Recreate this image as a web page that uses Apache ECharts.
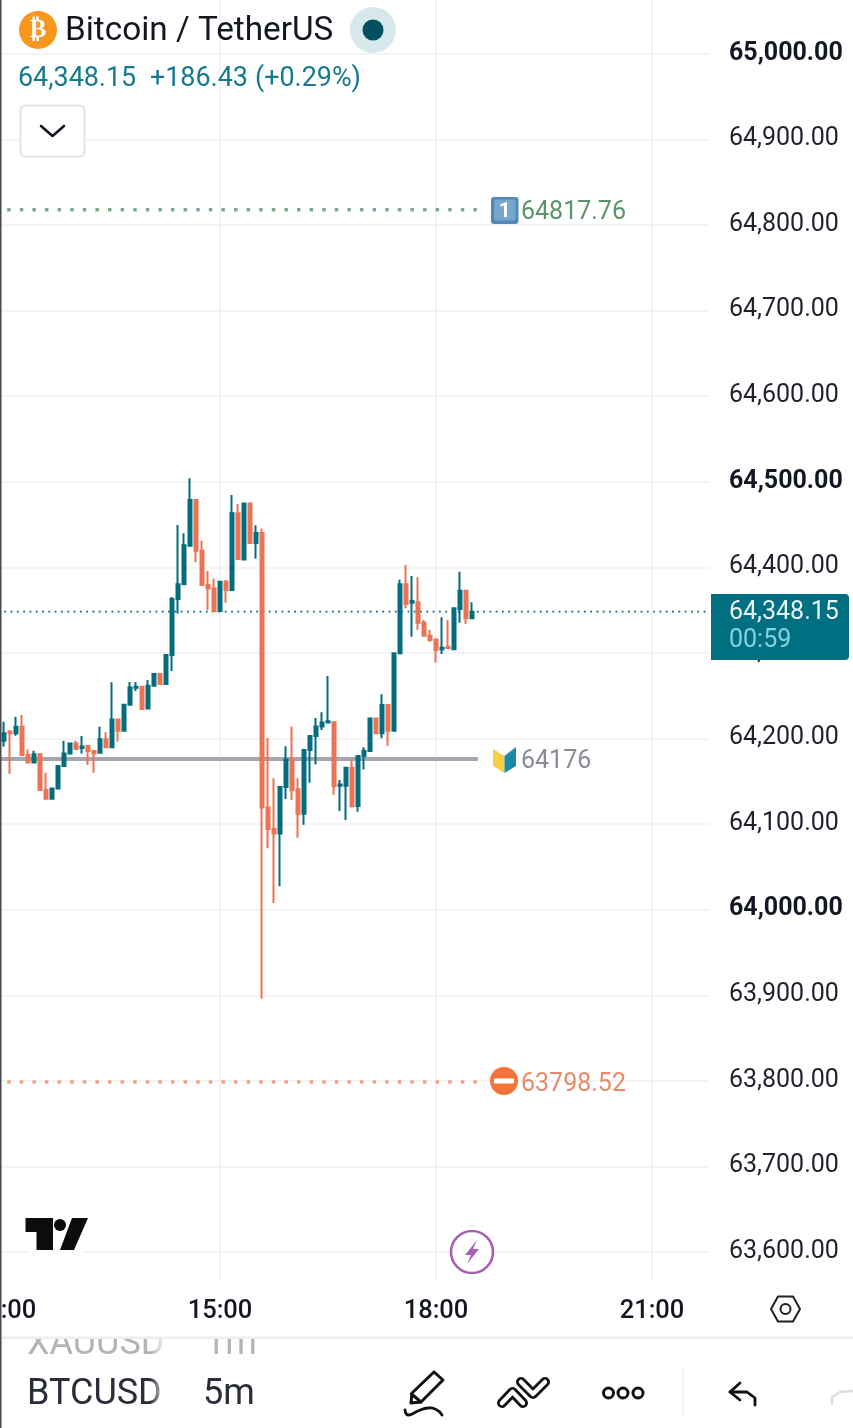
<!DOCTYPE html>
<html><head><meta charset="utf-8">
<style>html,body{margin:0;padding:0;background:#fff}#c{width:853px;height:1428px}</style>
<script src="https://cdn.jsdelivr.net/npm/echarts@6/dist/echarts.min.js"></script>
</head><body><div id="c"></div>
<script>
const opens = [64197.4,64208,64206,64213.8,64180.7,64172.1,64181.5,64139.8,64129.7,64141.7,64167.8,64182.6,64194.3,64188.9,64191.2,64185.4,64183.4,64199,64189.7,64222.3,64209.1,64239.5,64259.4,64260.5,64235.2,64261.7,64275.3,64263.6,64297.5,64363,64380.1,64425.3,64478.7,64419.5,64379.3,64375.4,64349,64383.2,64373.5,64463.1,64409.1,64474.7,64428.4,64440.1,64119.3,64094.3,64089.1,64143.4,64175.6,64140.6,64112,64186.5,64203,64213.9,64218.7,64219.1,64144.9,64144.9,64165.9,64121.1,64179.5,64185.4,64223.5,64206,64239.1,64209.1,64299.5,64380.1,64358.7,64359.1,64335.3,64320.1,64315.8,64304.2,64307.3,64304.2,64351.3,64372.7,64340.4];
const closes = [64206,64206,64213.8,64180.7,64172.1,64181.5,64139.8,64129.7,64141.7,64167.8,64182.6,64194.3,64187.7,64190.8,64185.4,64182.6,64199,64189.7,64222.3,64209.1,64239.5,64259.7,64260.5,64234.4,64261.7,64275.3,64263.6,64297.5,64363,64380.1,64425.7,64478.7,64419.5,64379.3,64375.4,64349,64383.2,64373.5,64463.1,64409.7,64474.7,64428.4,64440.1,64119.3,64094.3,64089.1,64143.4,64175.6,64139.4,64112,64186.5,64203,64213.9,64218.7,64220.3,64144.6,64146.4,64165.9,64121.1,64179.5,64185.8,64223.5,64206,64239.1,64209.1,64299.5,64380.1,64357.1,64360.6,64335.3,64320.1,64315.1,64303.4,64306.1,64305.7,64352.1,64372.7,64340.4,64348.15];
const lows = [64190.4,64158.5,64203.3,64180.7,64172.1,64172.1,64139.8,64129.7,64129.7,64141.7,64167.8,64182.6,64187.7,64182.6,64169,64160.1,64183.4,64189.7,64189.7,64196.3,64209.1,64239.5,64255.5,64234.4,64235.2,64261.7,64263.6,64263.6,64278.8,64346.2,64380.1,64425.3,64405.8,64379.3,64350.1,64349,64349,64358.7,64373.5,64409.7,64409.1,64428.4,64409.9,63895.9,64071.8,64007.8,64027.5,64129.3,64128.1,64083.9,64099.1,64148.2,64169.6,64209.8,64218.7,64134.2,64115.3,64104.7,64119.5,64114.5,64163.9,64185.4,64206,64200.2,64191.6,64209.1,64299.5,64352.1,64319,64326.8,64320.1,64313.1,64288.6,64298.7,64305.7,64304.2,64335.3,64333.8,64340.4];
const highs = [64219.6,64209.9,64225.5,64227.4,64187.3,64185.8,64181.5,64160.1,64141.7,64167.8,64197.4,64194.3,64197.4,64202.9,64191.2,64185.4,64213.8,64207.2,64265.6,64222.3,64239.5,64266,64266,64260.5,64268.3,64275.3,64275.3,64297.5,64365.3,64449.5,64439.7,64504,64478.7,64431.2,64395.7,64387.1,64383.2,64385.2,64484.5,64474,64474.7,64474.7,64449.3,64445.3,64200.6,64153.5,64143.4,64190.9,64213.9,64153.5,64186.5,64203,64223.9,64230.8,64273,64219.1,64151.5,64165.9,64175.6,64179.5,64189.7,64223.5,64223.5,64251.6,64239.1,64299.5,64385.9,64402.7,64389.9,64388.3,64338.4,64326.8,64315.8,64341.6,64338.4,64352.1,64394.9,64372.7,64359.1];
const priceTicks = [63600,63700,63800,63900,64000,64100,64200,64300,64400,64500,64600,64700,64800,64900,65000];
const boldTicks = [64000,64500,65000];
const timeTicks = ['12:00','15:00','18:00','21:00'];
const gridTimes = ['15:00','18:00','21:00'];
const lastPrice = 64348.15;
const targetPrice = 64817.76;
const stopPrice = 63798.52;
const entryPrice = 64176;
const lastLevelIndex = 79;
const rightIndex = 117;

const bandCount = 118;
const categories = [];
for (let i = 0; i < bandCount; i++) {
  const m = 12 * 60 + 5 * i;
  categories.push(String(Math.floor(m / 60) % 24).padStart(2, '0') + ':' + String(m % 60).padStart(2, '0'));
}
const candles = opens.map((o, i) => [o, closes[i], lows[i], highs[i]]);
const showTime = (i, v) => timeTicks.includes(v);
const showGrid = (i, v) => gridTimes.includes(v);
const TEAL = '#056c7e', RED = '#ec7353';
const F = 'Roboto';

function levelSeries(value, color, width, dash, offset, labelText, labelColor, startIdx, endIdx) {
  return {
    type: 'line', silent: true, symbol: 'none', z: 1, animation: false,
    data: [[startIdx, value], [endIdx, value]],
    lineStyle: { color, width, type: dash, dashOffset: offset, cap: 'butt' },
    endLabel: labelText ? {
      show: true, formatter: labelText, distance: 43, offset: [0, 2.5], color: labelColor,
      fontFamily: F, fontSize: 25
    } : { show: false }
  };
}
const T = (text, x, y, font, fill, extra) => ({ type: 'text', z: 100, silent: true,
  style: Object.assign({ text, x, y, font, fill, verticalAlign: 'middle' }, extra || {}) });
const R = (x, y, w, h, fill, r, extra) => ({ type: 'rect', z: 100, silent: true,
  shape: { x, y, width: w, height: h, r: r || 0 }, style: Object.assign({ fill }, extra || {}) });
const C = (cx, cy, r, fill, extra) => ({ type: 'circle', z: 100, silent: true,
  shape: { cx, cy, r }, style: Object.assign({ fill }, extra || {}) });
const PG = (points, fill) => ({ type: 'polygon', z: 100, silent: true, shape: { points }, style: { fill } });
const PL = (points, stroke, lw, smooth) => ({ type: 'polyline', z: 100, silent: true,
  shape: { points, smooth: smooth || 0 },
  style: { stroke, lineWidth: lw, fill: null, lineCap: 'round', lineJoin: 'round' } });
const ring = (cx, cy, r, stroke, lw) => ({ type: 'circle', z: 100, silent: true, shape: { cx, cy, r }, style: { fill: null, stroke, lineWidth: lw } });

const ink = '#131722';
const graphics = [
  // header
  C(38, 30, 19, '#f7971d'),
  T('₿', 38, 30, "bold 25px 'DejaVu Sans'", '#fff', { align: 'center' }),
  T('Bitcoin / TetherUS', 65, 32, '33.3px ' + F, ink),
  C(373, 30, 23, '#d6e8ec'), C(373, 30, 10.5, '#00505f'),
  T('64,348.15', 18, 79.5, '26.9px ' + F, '#157a8c'),
  T('+186.43', 150, 79.5, '26.9px ' + F, '#157a8c'),
  T('(+0.29%)', 255, 79.5, '26.9px ' + F, '#157a8c'),
  R(20.5, 105.5, 64, 51, '#fff', 5, { stroke: '#e0e3e8', lineWidth: 2 }),
  PL([[41, 126], [52.5, 136], [64, 126]], ink, 2.6),
  // level icons
  R(491, 197, 27.5, 27, '#5288b8', 3),
  R(494, 199.5, 21.5, 21, '#74a6cf', 2),
  T('1', 504.7, 212, 'bold 21px ' + F, '#fff', { align: 'center' }),
  PG([[493, 749], [504.5, 756], [504.5, 773], [493, 766]], '#f7cf44'),
  PG([[516, 747], [504.5, 756], [504.5, 773], [516, 766]], '#1a8aa6'),
  C(504, 1081, 14, '#f2743a'),
  R(494, 1078.5, 20, 5, '#fff', 1),
  // last price tag
  R(711, 594, 138, 66, '#006f82', [0, 4, 4, 0]),
  T('64,348.15', 729, 613, '25px ' + F, '#e6f6f8'),
  T('00:59', 729, 641, '25px ' + F, '#86d2df'),
  // logo
  R(30, 1250, 52, 4, '#fff'),
  PG([[25.5, 1218], [53, 1218], [53, 1250], [36.5, 1250], [36.5, 1232], [25.5, 1232]], '#0c0c0c'),
  C(60, 1225, 6, '#0c0c0c'),
  PG([[72, 1218], [88, 1218], [74, 1250], [60, 1250]], '#0c0c0c'),
  // lightning
  C(472, 1252, 21, '#fff', { stroke: '#a65fb4', lineWidth: 2.6 }),
  PG([[477, 1240], [465, 1255], [471, 1255], [467, 1264], [479, 1249], [473, 1249]], '#a65fb4'),
  // settings hexagon
  PL([[771, 1309], [778, 1296.5], [793, 1296.5], [800, 1309], [793, 1321.5], [778, 1321.5], [771, 1309]], '#202020', 2),
  ring(785.5, 1309, 5, '#202020', 2),
  // bottom bar
  T('XAUUSD', 27, 1345, '36px ' + F, '#b4b4b8'),
  T('1m', 205, 1345, '36px ' + F, '#b4b4b8'),
  R(0, 1326, 853, 11.5, '#fff'),
  R(0, 1336.5, 853, 2.5, '#eeeef0'),
  T('BTCUSD', 27, 1395, '36px ' + F, '#2a2e39'),
  T('5m', 203, 1395, '36px ' + F, '#2a2e39'),
  { type: 'rect', z: 100, silent: true, shape: { x: 150, y: 1339, width: 18, height: 70 },
    style: { fill: new echarts.graphic.LinearGradient(0, 0, 1, 0, [
      { offset: 0, color: 'rgba(255,255,255,0)' }, { offset: 1, color: '#fff' }]) } },
  R(167, 1339, 28, 70, '#fff'),
  // pencil
  PL([[434, 1372], [443, 1380], [421, 1402], [411, 1403], [412, 1393], [434, 1372]], '#111', 3),
  PL([[411.5, 1394], [421, 1402]], '#111', 3),
  PL([[405, 1410], [408, 1415], [418, 1411], [428, 1408], [437, 1410], [442, 1415]], '#111', 2.8, 0.5),
  // trend icon
  PL([[502, 1403], [512.5, 1392], [523, 1403]], '#111', 10),
  PL([[502, 1403], [512.5, 1392], [523, 1403]], '#fff', 4.5),
  PL([[521, 1382], [533, 1394], [545, 1382]], '#111', 10),
  PL([[521, 1382], [533, 1394], [545, 1382]], '#fff', 4.5),
  // dots
  ring(608.5, 1393, 5, '#111', 3), ring(623, 1393, 5, '#111', 3), ring(638, 1393, 5, '#111', 3),
  R(682.5, 1368, 1.5, 50, '#f0f0f2'),
  // undo / redo
  PL([[740, 1383], [730, 1392], [740, 1400]], '#111', 2.8),
  PL([[730, 1392], [747, 1392], [755, 1398], [755, 1405]], '#111', 2.8),
  PL([[832, 1404], [832, 1397], [840, 1392], [853, 1391]], '#dedee2', 2.6),
  // left screen edge
  R(0, 0, 1.5, 1428, '#4a4a4e')
];

const chart = echarts.init(document.getElementById('c'), null, { renderer: 'canvas' });
chart.setOption({
  animation: false,
  backgroundColor: '#fff',
  grid: { left: 1, right: 144, top: 0, bottom: 148, outerBoundsMode: 'none', containLabel: false },
  xAxis: {
    type: 'category', data: categories, boundaryGap: true,
    axisLine: { show: false }, axisTick: { show: false, alignWithLabel: true },
    axisLabel: { interval: showTime, margin: 19, fontFamily: F, fontWeight: 500, fontSize: 25.5, color: ink, hideOverlap: false },
    splitLine: { show: true, interval: showGrid, alignWithLabel: true, lineStyle: { color: '#f0f1f4', width: 1.5 } }
  },
  yAxis: {
    type: 'value', position: 'right', scale: true,
    min: 63567.3, max: 65062.9,
    axisLine: { show: false },
    axisTick: { show: false, customValues: priceTicks },
    axisLabel: {
      customValues: priceTicks, margin: 20, padding: [0, 0, 1, 0], align: 'left',
      formatter: v => {
        const s = Number(v).toLocaleString('en-US', { minimumFractionDigits: 2, maximumFractionDigits: 2 });
        return boldTicks.includes(Number(v)) ? '{b|' + s + '}' : '{n|' + s + '}';
      },
      rich: {
        b: { fontFamily: F, fontSize: 25, fontWeight: 700, color: ink },
        n: { fontFamily: F, fontSize: 25, color: '#1e222d' }
      }
    },
    splitLine: { show: true, lineStyle: { color: '#f0f1f4', width: 1.5 } }
  },
  series: [
    levelSeries(entryPrice, '#a6a5b0', 4, 'solid', 0, String(entryPrice), '#8a8a96', -1, lastLevelIndex),
    levelSeries(targetPrice, '#7fa98c', 3.5, [3.5, 9.1], 9.4, String(targetPrice), '#5a9468', 0, lastLevelIndex),
    levelSeries(stopPrice, '#efa28b', 3.5, [3.5, 9.1], 9.4, String(stopPrice), '#e88a6a', 0, lastLevelIndex),
    levelSeries(lastPrice, '#056c7e', 1.8, [1.8, 4.5], 0, '', '', -1, rightIndex),
    {
      type: 'candlestick', data: candles, z: 3, barWidth: 3.4, silent: true, animation: false,
      itemStyle: { color: TEAL, color0: RED, borderColor: TEAL, borderColor0: RED, borderWidth: 2 }
    }
  ],
  graphic: { elements: graphics }
});
</script></body></html>
